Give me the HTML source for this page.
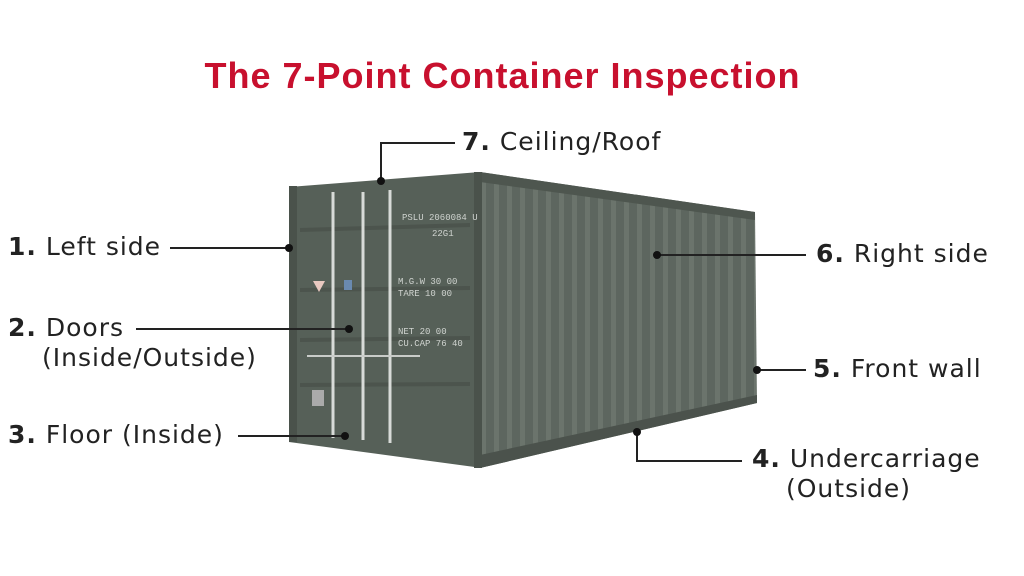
<!DOCTYPE html>
<html><head><meta charset="utf-8"><style>
body{margin:0;width:1024px;height:576px;background:#fff;position:relative;overflow:hidden;font-family:"Liberation Sans",sans-serif}
.t{position:absolute;font-family:"DejaVu Sans",sans-serif;font-size:25px;letter-spacing:1px;color:#222;line-height:30px;white-space:nowrap}
.t b{font-weight:bold}
h1{position:absolute;left:0;width:1005px;top:55px;margin:0;text-align:center;color:#c8102e;font-size:36px;letter-spacing:1px;font-weight:bold}
</style></head><body>
<h1>The 7-Point Container Inspection</h1>
<svg width="1024" height="576" style="position:absolute;left:0;top:0">
<defs>
<pattern id="rib" width="13" height="10" patternUnits="userSpaceOnUse"><rect width="13" height="10" fill="#5d665f"/><rect width="5" height="10" fill="#6b746c"/></pattern>
</defs>
<polygon points="480,172 755,212 757,403 480,468" fill="url(#rib)"/>
<polygon points="480,172 755,212 755,220 480,182" fill="#4e564f"/>
<polygon points="480,455 757,395 757,403 480,468" fill="#4b524c"/>
<polygon points="289,187 480,172 482,468 289,442" fill="#566058"/>
<rect x="289" y="186" width="8" height="256" fill="#4a524b"/>
<rect x="474" y="172" width="8" height="296" fill="#4a524b"/>
<g stroke="#4c544d" stroke-width="4">
<line x1="300" y1="290" x2="470" y2="288"/><line x1="300" y1="340" x2="470" y2="338"/><line x1="300" y1="385" x2="470" y2="384"/><line x1="300" y1="230" x2="470" y2="225"/>
</g>
<g stroke="#d8dbd8" stroke-width="3">
<line x1="333" y1="192" x2="333" y2="438"/><line x1="363" y1="192" x2="363" y2="440"/><line x1="390" y1="190" x2="390" y2="443"/>
</g>
<line x1="307" y1="356" x2="420" y2="356" stroke="#c9ccc9" stroke-width="2"/>
<g fill="#cfd3cf" font-family="Liberation Mono" font-size="9">
<text x="402" y="220">PSLU 2060084 U</text><text x="432" y="236">22G1</text>
<text x="398" y="284">M.G.W  30 00</text><text x="398" y="296">TARE   10 00</text>
<text x="398" y="334">NET    20 00</text><text x="398" y="346">CU.CAP 76 40</text>
</g>
<polygon points="313,281 325,281 319,292" fill="#e8c8c0"/>
<rect x="344" y="280" width="8" height="10" fill="#6a8ab0"/>
<rect x="312" y="390" width="12" height="16" fill="#aaa"/>
<g stroke="#222" stroke-width="2" fill="none">
<polyline points="381,181 381,143 455,143"/>
<line x1="170" y1="248" x2="289" y2="248"/>
<line x1="136" y1="329" x2="349" y2="329"/>
<line x1="238" y1="436" x2="345" y2="436"/>
<line x1="657" y1="255" x2="806" y2="255"/>
<line x1="757" y1="370" x2="806" y2="370"/>
<polyline points="637,432 637,461 742,461"/>
</g>
<g fill="#111">
<circle cx="381" cy="181" r="4"/><circle cx="289" cy="248" r="4"/><circle cx="349" cy="329" r="4"/><circle cx="345" cy="436" r="4"/><circle cx="657" cy="255" r="4"/><circle cx="757" cy="370" r="4"/><circle cx="637" cy="432" r="4"/>
</g>
</svg>
<div class="t" style="left:462px;top:127px"><b>7.</b> Ceiling/Roof</div>
<div class="t" style="left:8px;top:232px"><b>1.</b> Left side</div>
<div class="t" style="left:8px;top:313px"><b>2.</b> Doors</div>
<div class="t" style="left:42px;top:343px">(Inside/Outside)</div>
<div class="t" style="left:8px;top:420px"><b>3.</b> Floor (Inside)</div>
<div class="t" style="left:816px;top:239px"><b>6.</b> Right side</div>
<div class="t" style="left:813px;top:354px"><b>5.</b> Front wall</div>
<div class="t" style="left:752px;top:444px"><b>4.</b> Undercarriage</div>
<div class="t" style="left:786px;top:474px">(Outside)</div>
</body></html>
